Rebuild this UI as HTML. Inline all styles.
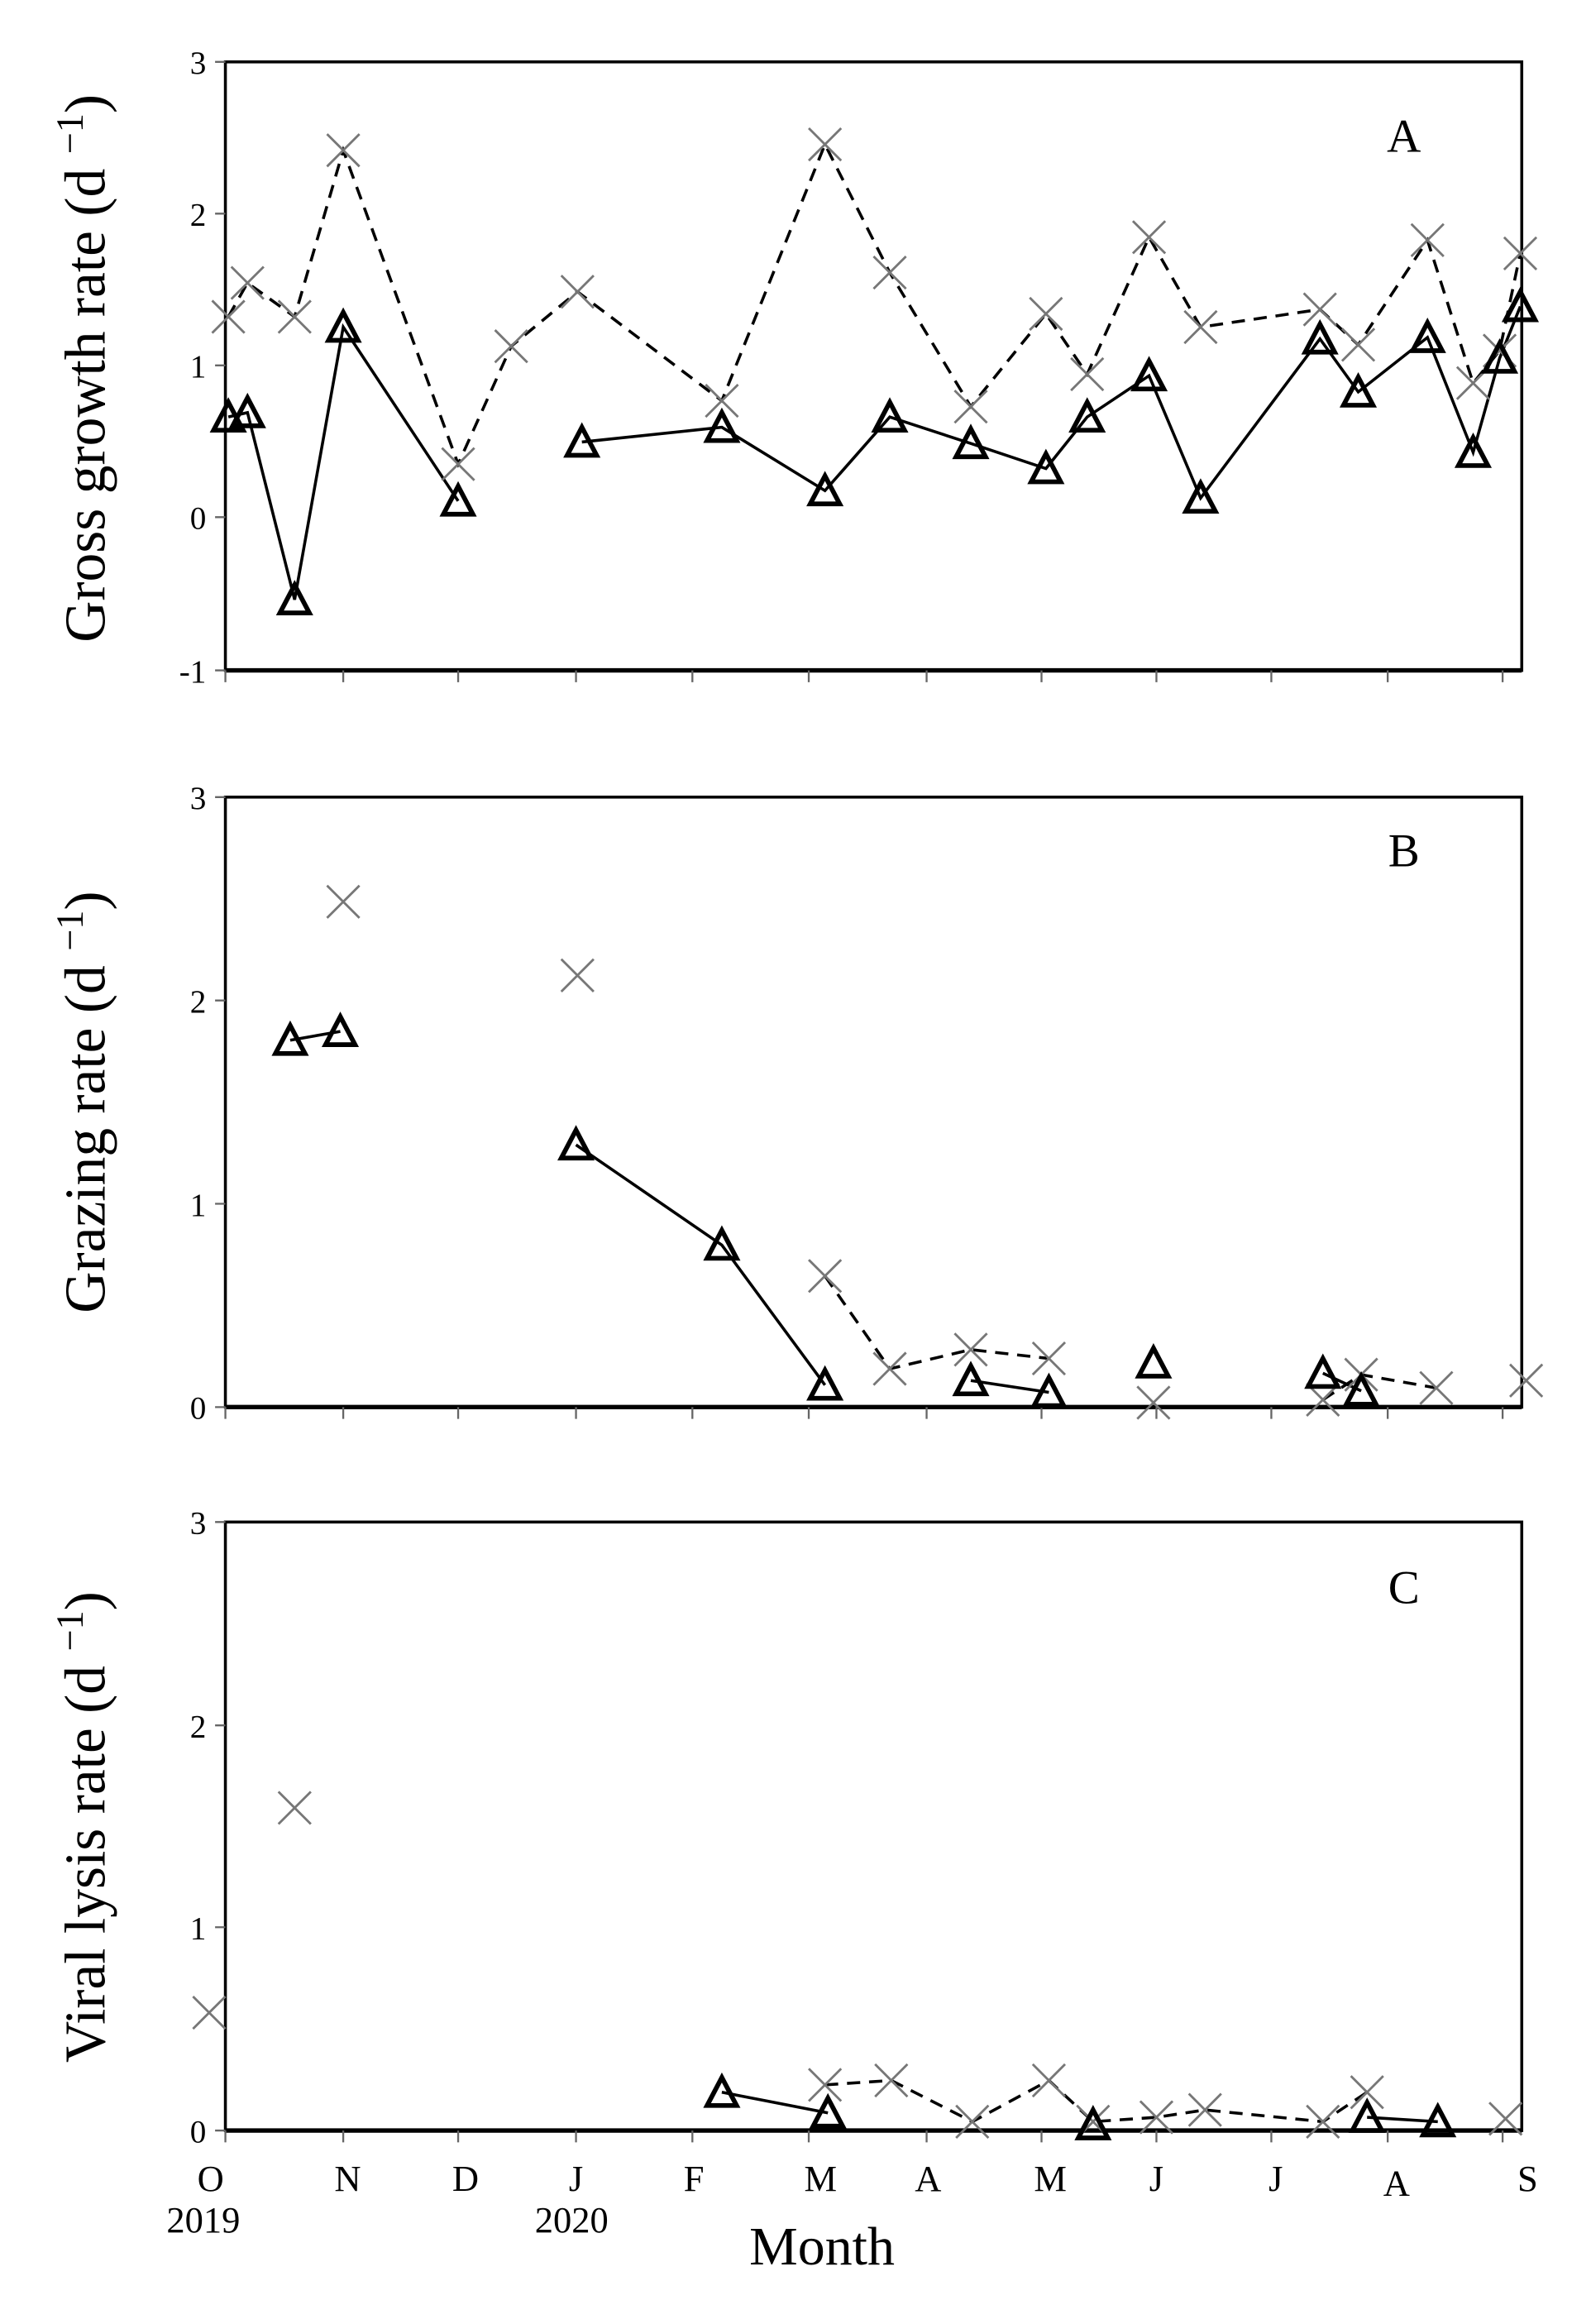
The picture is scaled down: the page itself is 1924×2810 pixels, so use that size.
<!DOCTYPE html>
<html><head><meta charset="utf-8"><style>html,body{margin:0;padding:0;background:#fff}svg{display:block}</style></head>
<body>
<svg width="1924" height="2810" viewBox="0 0 1080 1577.3" preserveAspectRatio="none" xmlns="http://www.w3.org/2000/svg" font-family="Liberation Serif, serif">
<defs>
<symbol id="t" viewBox="-14 -14 28 28" overflow="visible"><path d="M0,-10 L10,9 L-10,9 Z" fill="none" stroke="#000" stroke-width="3.2" stroke-linejoin="miter"/></symbol>
<symbol id="x" viewBox="-14 -14 28 28" overflow="visible"><path d="M-11,-11 L11,11 M-11,11 L11,-11" stroke="#777" stroke-width="1.6"/></symbol>
</defs>
<g fill="none" stroke="#000">
<rect x="153" y="42" width="880" height="413" stroke-width="2"/>
<rect x="153" y="541" width="880" height="414" stroke-width="2"/>
<rect x="153" y="1033" width="880" height="413" stroke-width="2"/>
<line x1="153" y1="455" x2="1033" y2="455" stroke-width="3"/>
<line x1="153" y1="955" x2="1033" y2="955" stroke-width="3"/>
<line x1="153" y1="1446" x2="1033" y2="1446" stroke-width="3"/>
</g>
<g stroke="#666" stroke-width="1.3">
<path d="M146,42h7M146,145h7M146,248h7M146,351h7M146,455h7"/>
<path d="M146,541h7M146,679h7M146,817h7M146,955h7"/>
<path d="M146,1033h7M146,1171h7M146,1308h7M146,1446h7"/>
<path d="M153,455v8M233,455v8M311,455v8M391,455v8M470,455v8M549,455v8M629,455v8M707,455v8M785,455v8M863,455v8M942,455v8M1020,455v8"/>
<path d="M153,955v8M233,955v8M311,955v8M391,955v8M470,955v8M549,955v8M629,955v8M707,955v8M785,955v8M863,955v8M942,955v8M1020,955v8"/>
<path d="M153,1446v8M233,1446v8M311,1446v8M391,1446v8M470,1446v8M549,1446v8M629,1446v8M707,1446v8M785,1446v8M863,1446v8M942,1446v8M1020,1446v8"/>
</g>
<g font-size="22" text-anchor="end">
<text x="140" y="50">3</text><text x="140" y="153">2</text><text x="140" y="256">1</text><text x="140" y="359">0</text><text x="140" y="463">-1</text>
<text x="140" y="549">3</text><text x="140" y="687">2</text><text x="140" y="825">1</text><text x="140" y="963">0</text>
<text x="140" y="1041">3</text><text x="140" y="1179">2</text><text x="140" y="1316">1</text><text x="140" y="1454">0</text>
</g>
<g font-size="39" text-anchor="middle">
<text transform="translate(71,250) rotate(-90)">Gross growth rate (d <tspan font-size="26" dy="-15">−1</tspan><tspan dy="15">)</tspan></text>
<text transform="translate(71,748) rotate(-90)">Grazing rate (d <tspan font-size="26" dy="-15">−1</tspan><tspan dy="15">)</tspan></text>
<text transform="translate(71,1240) rotate(-90)">Viral lysis rate (d <tspan font-size="26" dy="-15">−1</tspan><tspan dy="15">)</tspan></text>
</g>
<g font-size="32" text-anchor="middle">
<text x="953" y="103">A</text><text x="953" y="588">B</text><text x="953" y="1088">C</text>
</g>
<g font-size="25" text-anchor="middle">
<text x="143" y="1487">O</text><text x="236" y="1487">N</text><text x="316" y="1487">D</text><text x="391" y="1487">J</text><text x="471" y="1487">F</text><text x="557" y="1487">M</text><text x="630" y="1487">A</text><text x="713" y="1487">M</text><text x="785" y="1487">J</text><text x="866" y="1487">J</text><text x="948" y="1490">A</text><text x="1037" y="1487">S</text>
<text x="138" y="1515">2019</text><text x="388" y="1515">2020</text>
</g>
<text x="558" y="1537" font-size="37" text-anchor="middle">Month</text>

<!-- Panel A -->
<polyline fill="none" stroke="#000" stroke-width="2" stroke-dasharray="9,6" points="155,215 168,192 200,215 233,102 311,315 347,235 392,198 490,272 560,98 604,185 659,276 710,213 738,254 780,161 815,222 896,210 922,234 969,163 1000,260 1018,238 1032,172"/>
<polyline fill="none" stroke="#000" stroke-width="2" points="155,283 168,280 200,407 233,222 311,340"/>
<polyline fill="none" stroke="#000" stroke-width="2" points="395,300 490,290 560,333 604,283 659,301 710,318 738,283 780,255 815,338 896,230 922,266 969,229 1000,307 1018,243 1032,208"/>
<g>
<use href="#x" x="141" y="201" width="28" height="28"/><use href="#x" x="154" y="178" width="28" height="28"/><use href="#x" x="186" y="201" width="28" height="28"/><use href="#x" x="219" y="88" width="28" height="28"/><use href="#x" x="297" y="301" width="28" height="28"/><use href="#x" x="333" y="221" width="28" height="28"/><use href="#x" x="378" y="184" width="28" height="28"/><use href="#x" x="476" y="258" width="28" height="28"/><use href="#x" x="546" y="84" width="28" height="28"/><use href="#x" x="590" y="171" width="28" height="28"/><use href="#x" x="645" y="262" width="28" height="28"/><use href="#x" x="696" y="199" width="28" height="28"/><use href="#x" x="724" y="240" width="28" height="28"/><use href="#x" x="766" y="147" width="28" height="28"/><use href="#x" x="801" y="208" width="28" height="28"/><use href="#x" x="882" y="196" width="28" height="28"/><use href="#x" x="908" y="220" width="28" height="28"/><use href="#x" x="955" y="149" width="28" height="28"/><use href="#x" x="986" y="246" width="28" height="28"/><use href="#x" x="1004" y="224" width="28" height="28"/><use href="#x" x="1018" y="158" width="28" height="28"/>
</g>
<g>
<use href="#t" x="141" y="269" width="28" height="28"/><use href="#t" x="154" y="266" width="28" height="28"/><use href="#t" x="186" y="393" width="28" height="28"/><use href="#t" x="219" y="208" width="28" height="28"/><use href="#t" x="297" y="326" width="28" height="28"/><use href="#t" x="381" y="286" width="28" height="28"/><use href="#t" x="476" y="276" width="28" height="28"/><use href="#t" x="546" y="319" width="28" height="28"/><use href="#t" x="590" y="269" width="28" height="28"/><use href="#t" x="645" y="287" width="28" height="28"/><use href="#t" x="696" y="304" width="28" height="28"/><use href="#t" x="724" y="269" width="28" height="28"/><use href="#t" x="766" y="241" width="28" height="28"/><use href="#t" x="801" y="324" width="28" height="28"/><use href="#t" x="882" y="216" width="28" height="28"/><use href="#t" x="908" y="252" width="28" height="28"/><use href="#t" x="955" y="215" width="28" height="28"/><use href="#t" x="986" y="293" width="28" height="28"/><use href="#t" x="1004" y="229" width="28" height="28"/><use href="#t" x="1018" y="194" width="28" height="28"/>
</g>

<!-- Panel B -->
<polyline fill="none" stroke="#000" stroke-width="2" stroke-dasharray="9,6" points="560,866 604,929 659,916 712,922"/>
<polyline fill="none" stroke="#000" stroke-width="2" stroke-dasharray="9,6" points="898,950 924,933 975,942"/>
<polyline fill="none" stroke="#000" stroke-width="2" points="197,706 231,700"/>
<polyline fill="none" stroke="#000" stroke-width="2" points="391,777 490,845 560,940"/>
<polyline fill="none" stroke="#000" stroke-width="2" points="659,937 712,945"/>
<polyline fill="none" stroke="#000" stroke-width="2" points="898,932 924,944"/>
<g>
<use href="#x" x="219" y="598" width="28" height="28"/><use href="#x" x="378" y="648" width="28" height="28"/><use href="#x" x="546" y="852" width="28" height="28"/><use href="#x" x="590" y="915" width="28" height="28"/><use href="#x" x="645" y="902" width="28" height="28"/><use href="#x" x="698" y="908" width="28" height="28"/><use href="#x" x="769" y="938" width="28" height="28"/><use href="#x" x="884" y="936" width="28" height="28"/><use href="#x" x="910" y="919" width="28" height="28"/><use href="#x" x="961" y="928" width="28" height="28"/><use href="#x" x="1022" y="923" width="28" height="28"/>
</g>
<g>
<use href="#t" x="183" y="692" width="28" height="28"/><use href="#t" x="217" y="686" width="28" height="28"/><use href="#t" x="377" y="763" width="28" height="28"/><use href="#t" x="476" y="831" width="28" height="28"/><use href="#t" x="546" y="926" width="28" height="28"/><use href="#t" x="645" y="923" width="28" height="28"/><use href="#t" x="698" y="931" width="28" height="28"/><use href="#t" x="769" y="911" width="28" height="28"/><use href="#t" x="884" y="918" width="28" height="28"/><use href="#t" x="910" y="930" width="28" height="28"/>
</g>

<!-- Panel C -->
<polyline fill="none" stroke="#000" stroke-width="2" stroke-dasharray="9,6" points="560,1415 605,1412 660,1440 712,1412 742,1440 785,1437 818,1432 898,1440 928,1420"/>
<polyline fill="none" stroke="#000" stroke-width="2" points="490,1420 562,1434"/>
<polyline fill="none" stroke="#000" stroke-width="2" points="928,1437 976,1440"/>
<g>
<use href="#x" x="128" y="1352" width="28" height="28"/><use href="#x" x="186" y="1213" width="28" height="28"/><use href="#x" x="546" y="1401" width="28" height="28"/><use href="#x" x="591" y="1398" width="28" height="28"/><use href="#x" x="646" y="1426" width="28" height="28"/><use href="#x" x="698" y="1398" width="28" height="28"/><use href="#x" x="728" y="1426" width="28" height="28"/><use href="#x" x="771" y="1423" width="28" height="28"/><use href="#x" x="804" y="1418" width="28" height="28"/><use href="#x" x="884" y="1426" width="28" height="28"/><use href="#x" x="914" y="1406" width="28" height="28"/><use href="#x" x="1008" y="1424" width="28" height="28"/>
</g>
<g>
<use href="#t" x="476" y="1406" width="28" height="28"/><use href="#t" x="548" y="1420" width="28" height="28"/><use href="#t" x="728" y="1428" width="28" height="28"/><use href="#t" x="914" y="1423" width="28" height="28"/><use href="#t" x="962" y="1426" width="28" height="28"/>
</g>
</svg>
</body></html>
